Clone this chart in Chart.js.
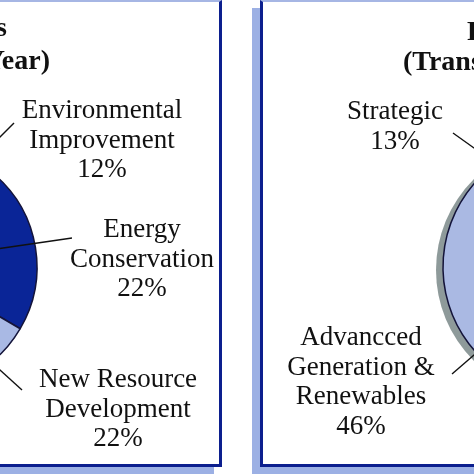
<!DOCTYPE html>
<html>
<head>
<meta charset="utf-8">
<script src="https://cdn.jsdelivr.net/npm/chart.js@4.4.1/dist/chart.umd.min.js"></script>
<style>
    html, body { margin: 0; padding: 0; background: #fff; }
    body { width: 474px; height: 474px; overflow: hidden; position: relative; }
    .panel {
        position: absolute;
        top: 0;
        width: 482px;
        height: 467px;
        box-sizing: border-box;
        background: #fff;
        border: 3px solid #0c1f8e;
        border-top: 2px solid #a6b6e4;
        box-shadow: -8px 8px 0 #9cb0e4;
    }
    .panel canvas { position: absolute; left: 0; top: 0; }
    #leftPanel { left: -260px; }
    #rightPanel { left: 260px; }
</style>
</head>
<body>
<div class="panel" id="leftPanel"><canvas id="leftChart" width="476" height="462"></canvas></div>
<div class="panel" id="rightPanel"><canvas id="rightChart" width="476" height="462"></canvas></div>
<script>
const leftTitle = ["PIER Program Areas", "(Per Year)"];
const leftCategories = ["Environmental Improvement", "Energy Conservation", "New Resource Development", "Other"];
const leftLabelLines = [["Environmental", "Improvement"], ["Energy", "Conservation"], ["New Resource", "Development"], []];
const leftValues = [12, 22, 22, 44];

const rightTitle = ["PIER Funding", "(Transmission & Distribution)"];
const rightCategories = ["Advancced Generation & Renewables", "Strategic", "Other"];
const rightLabelLines = [["Advancced", "Generation &", "Renewables"], ["Strategic"], []];
const rightValues = [46, 13, 41];

const labelFont = "27px 'Liberation Serif', serif";
const titleFont = "bold 28px 'Liberation Serif', serif";
const lineHeight = 29.7;

// label anchors, relative to the pie centre (text centre x, first baseline y)
const leftLabelPos = [
    { dx: 187, dy: -149, a: [35, -80], b: [99, -144] },
    { dx: 227, dy: -30, a: [40, -12], b: [157, -29] },
    { dx: 203, dy: 120, a: [63, 83], b: [107, 123] },
    null,
];
const rightLabelPos = [
    { dx: -209, dy: 78, a: [-52, 50], b: [-118, 107] },
    { dx: -175, dy: -148, a: [-54, -89], b: [-117, -134] },
    null,
];

function pieShadow(color, dx, dy) {
    return {
        id: "pieShadow",
        beforeDatasetsDraw(chart) {
            const arc = chart.getDatasetMeta(0).data[0];
            const ctx = chart.ctx;
            ctx.save();
            ctx.fillStyle = color;
            ctx.beginPath();
            ctx.arc(arc.x + dx, arc.y + dy, arc.outerRadius + 1, 0, Math.PI * 2);
            ctx.fill();
            ctx.restore();
        },
    };
}

function sliceLabels(pos, lineSets, title) {
    return {
        id: "sliceLabels",
        afterDatasetsDraw(chart) {
            const ctx = chart.ctx;
            const arc = chart.getDatasetMeta(0).data[0];
            const values = chart.data.datasets[0].data;
            ctx.save();
            ctx.fillStyle = "#111";
            ctx.strokeStyle = "#111";
            ctx.lineWidth = 1.4;
            ctx.font = labelFont;
            ctx.textAlign = "center";
            ctx.textBaseline = "alphabetic";
            pos.forEach((p, i) => {
                if (!p) return;
                const lines = lineSets[i].concat([values[i] + "%"]);
                lines.forEach((t, k) => {
                    ctx.fillText(t, arc.x + p.dx, arc.y + p.dy + k * lineHeight);
                });
                ctx.beginPath();
                ctx.moveTo(arc.x + p.a[0], arc.y + p.a[1]);
                ctx.lineTo(arc.x + p.b[0], arc.y + p.b[1]);
                ctx.stroke();
            });
            // panel title
            ctx.font = titleFont;
            ctx.textAlign = title.align;
            title.text.forEach((t, k) => {
                ctx.fillText(t, title.x[k], title.y[k]);
            });
            ctx.restore();
        },
    };
}

function makePie(id, categories, values, colors, rotation, radius, padding, plugins) {
    return new Chart(document.getElementById(id), {
        type: "pie",
        data: {
            labels: categories,
            datasets: [{
                data: values,
                backgroundColor: colors,
                borderColor: "#14143a",
                borderWidth: 1.5,
                radius: radius,
            }],
        },
        options: {
            responsive: false,
            animation: false,
            rotation: rotation,
            layout: { padding: padding },
            plugins: {
                legend: { display: false },
                tooltip: { enabled: false },
                title: { display: false },
            },
        },
        plugins: plugins,
    });
}

makePie("leftChart", leftCategories, leftValues,
    ["#3552c0", "#0a2597", "#a9b9e4", "#6c83d0"],
    -2, 122,
    { left: 0, right: 132, top: 68, bottom: 0 },
    [pieShadow("#8e9a9a", -6, 3),
     sliceLabels(leftLabelPos, leftLabelLines,
        { text: leftTitle, align: "right", x: [264, 307], y: [34, 67] })]);

makePie("rightChart", rightCategories, rightValues,
    ["#aab9e3", "#6c83d0", "#0a2597"],
    150, 127,
    { left: 138, right: 0, top: 68, bottom: 0 },
    [pieShadow("#8e9a9a", -6, 3),
     sliceLabels(rightLabelPos, rightLabelLines,
        { text: rightTitle, align: "left", x: [204, 140], y: [38, 68] })]);
</script>
</body>
</html>
